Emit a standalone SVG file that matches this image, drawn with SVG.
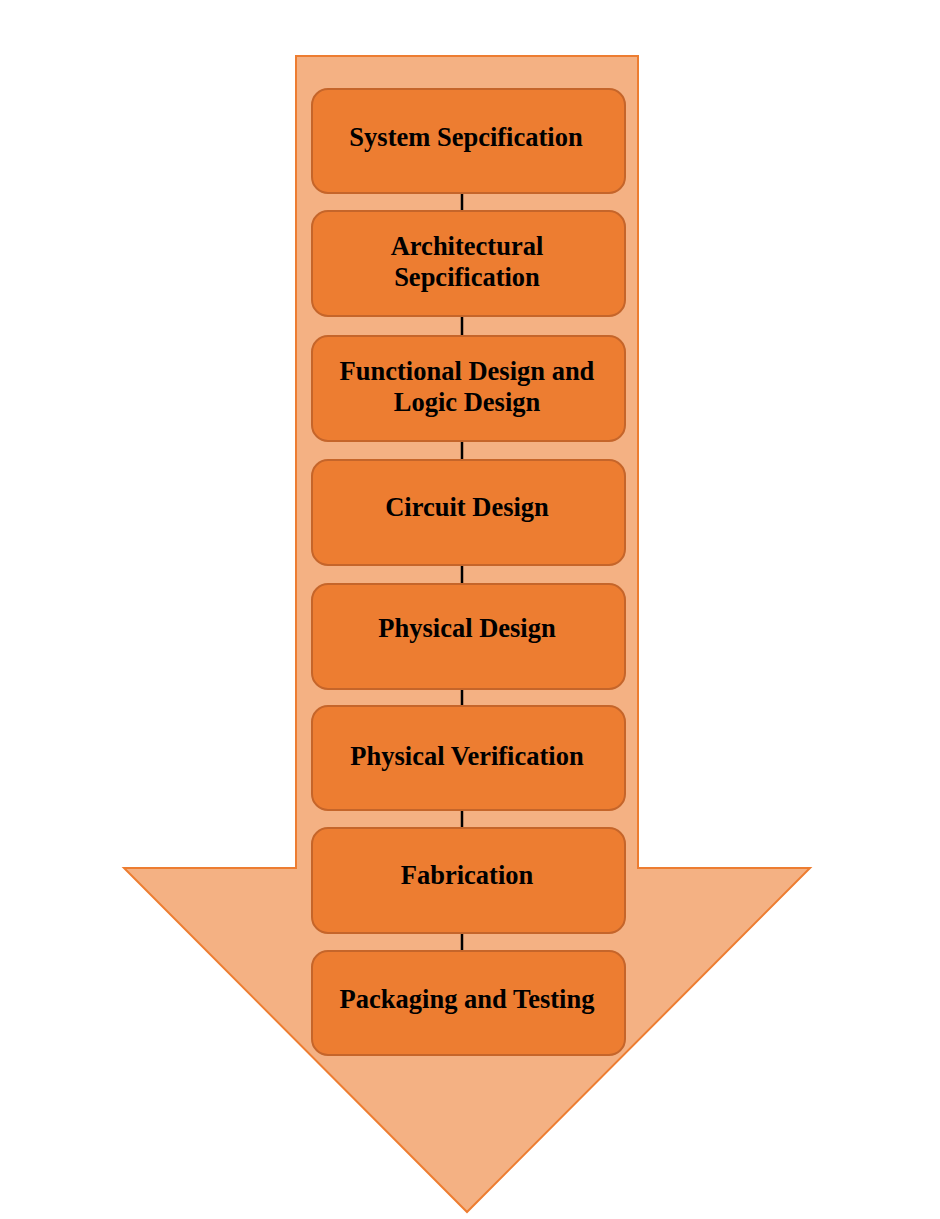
<svg xmlns="http://www.w3.org/2000/svg" width="940" height="1219" viewBox="0 0 940 1219">
<style>
.box{fill:#ED7D31;stroke:#C5652A;stroke-width:2}
.lbl{font-family:"Liberation Serif","DejaVu Serif",serif;font-weight:bold;font-size:26.5px;fill:#000;text-anchor:middle}
.conn{stroke:#000;stroke-width:2.5;fill:none}
</style>
<rect width="940" height="1219" fill="#fff"/>
<g id="arrow">
<path d="M296,56 L638,56 L638,868 L810,868 L467,1212 L124,868 L296,868 Z" fill="#F4B183" stroke="#ED7D31" stroke-width="2"/>
</g>
<g id="connectors">
<line class="conn" x1="462" y1="193" x2="462" y2="211"/>
<line class="conn" x1="462" y1="316" x2="462" y2="336"/>
<line class="conn" x1="462" y1="441" x2="462" y2="460"/>
<line class="conn" x1="462" y1="565" x2="462" y2="584"/>
<line class="conn" x1="462" y1="689" x2="462" y2="706"/>
<line class="conn" x1="462" y1="810" x2="462" y2="828"/>
<line class="conn" x1="462" y1="933" x2="462" y2="951"/>
</g>
<g id="n1"><rect class="box" x="312" y="89" width="313" height="104" rx="16"/><text class="lbl" x="466" y="146">System Sepcification</text></g>
<g id="n2"><rect class="box" x="312" y="211" width="313" height="105" rx="16"/><text class="lbl" x="467" y="255">Architectural</text><text class="lbl" x="467" y="286">Sepcification</text></g>
<g id="n3"><rect class="box" x="312" y="336" width="313" height="105" rx="16"/><text class="lbl" x="467" y="380">Functional Design and</text><text class="lbl" x="467" y="411">Logic Design</text></g>
<g id="n4"><rect class="box" x="312" y="460" width="313" height="105" rx="16"/><text class="lbl" x="467" y="516">Circuit Design</text></g>
<g id="n5"><rect class="box" x="312" y="584" width="313" height="105" rx="16"/><text class="lbl" x="467" y="637">Physical Design</text></g>
<g id="n6"><rect class="box" x="312" y="706" width="313" height="104" rx="16"/><text class="lbl" x="467" y="765">Physical Verification</text></g>
<g id="n7"><rect class="box" x="312" y="828" width="313" height="105" rx="16"/><text class="lbl" x="467" y="884">Fabrication</text></g>
<g id="n8"><rect class="box" x="312" y="951" width="313" height="104" rx="16"/><text class="lbl" x="467" y="1008">Packaging and Testing</text></g>
</svg>
